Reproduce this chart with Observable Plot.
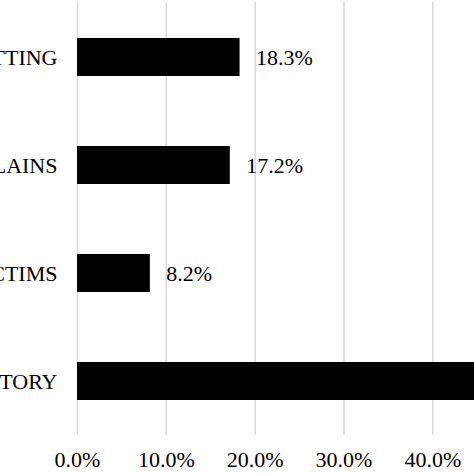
<!DOCTYPE html>
<html>
<head>
<meta charset="utf-8">
<script src="https://cdn.jsdelivr.net/npm/d3@7"></script>
<script src="https://cdn.jsdelivr.net/npm/@observablehq/plot@0.6"></script>
<style>
  html, body { margin: 0; padding: 0; background: #fff; overflow: hidden; width: 474px; height: 474px; }
  #chart { position: absolute; left: -150px; top: 0; width: 800px; }
  #chart svg { max-width: none !important; width: 800px; height: 474px; font-family: 'Liberation Serif', 'Times New Roman', serif !important; }
  #chart svg text { font-family: 'Liberation Serif', 'Times New Roman', serif !important; }
</style>
</head>
<body>
<div id="chart"></div>
<script>
const categories = ["SETTING", "VILLAINS", "VICTIMS", "HISTORY"];
const values = [0.183, 0.172, 0.082, 0.563];
const xTicks = [0, 0.1, 0.2, 0.3, 0.4, 0.5];

const data = categories.map((c, i) => ({category: c, value: values[i]}));
const fmt = d3.format(".1%");
const font = "'Liberation Serif', 'Times New Roman', serif";

const chart = Plot.plot({
  width: 800,
  height: 474,
  marginLeft: 227,
  marginRight: 40,
  marginTop: 2,
  marginBottom: 39,
  style: {fontFamily: font, background: "#fff", color: "#000", maxWidth: "none"},
  x: {domain: [0, 0.6], axis: null},
  y: {domain: categories, paddingInner: 0.65, paddingOuter: 0.325, axis: null},
  marks: [
    Plot.gridX(xTicks, {stroke: "#d9d9d9", strokeOpacity: 1, strokeWidth: 1.5}),
    Plot.barX(data, {x: "value", y: "category", fill: "#000"}),
    Plot.text(data, {x: "value", y: "category", text: d => fmt(d.value), textAnchor: "start", dx: 16, fontSize: 22, fontFamily: font, fill: "#000"}),
    Plot.axisY({tickSize: 0, tickPadding: 20, fontSize: 22, fontFamily: font, fill: "#000", label: null}),
    Plot.axisX(xTicks, {tickSize: 0, tickPadding: 16, fontSize: 22, fontFamily: font, tickFormat: fmt, fill: "#000", label: null})
  ]
});
document.getElementById("chart").appendChild(chart);
</script>
</body>
</html>
